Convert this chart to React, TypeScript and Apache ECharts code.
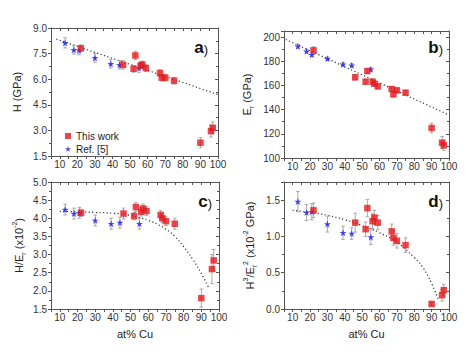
import React, { useEffect, useRef } from 'react';
import * as echarts from 'echarts';

// at% Cu of each sample
const xRef = [13, 18, 21, 30, 39, 44, 55];
const xWork = [22, 46, 52, 53, 56, 57, 59, 67, 68, 70, 75, 90, 96, 97];

// a) H (GPa)
const hRef = [8.13, 7.72, 7.68, 7.25, 6.9, 6.84, 6.65];
const hRefErr = [0.3, 0.25, 0.25, 0.25, 0.25, 0.25, 0.25];
const hWork = [7.81, 6.84, 6.61, 7.39, 6.8, 6.86, 6.65, 6.36, 6.09, 6.09, 5.91, 2.28, 2.96, 3.15];
const hWorkErr = [0.2, 0.25, 0.2, 0.25, 0.2, 0.2, 0.2, 0.2, 0.2, 0.2, 0.2, 0.3, 0.35, 0.35];
const hFit = [[8, 8.35], [100, 5.1]];

// b) Er (GPa)
const eRef = [192.3, 188.2, 185.4, 182.1, 177.4, 176.6, 173.3];
const eRefErr = [1.5, 1.5, 1.5, 1.5, 1.5, 1.5, 1.5];
const eWork = [189, 166.7, 163.1, 171.9, 163.1, 161.4, 159.2, 157, 152.6, 155.9, 154, 124.8, 112.7, 110.5];
const eWorkErr = [3, 2, 2, 2, 2, 2, 2, 2, 2, 2, 2, 4, 5, 4];
const eFit = [[6, 198], [100, 135.5]];

// c) H/Er (x10^-2)
const heRef = [4.24, 4.13, 4.15, 3.94, 3.85, 3.88, 3.85];
const heRefErr = [0.15, 0.15, 0.15, 0.15, 0.15, 0.15, 0.15];
const heWork = [4.15, 4.13, 4.06, 4.31, 4.18, 4.27, 4.2, 4.09, 4.0, 3.92, 3.85, 1.8, 2.6, 2.84];
const heWorkErr = [0.1, 0.15, 0.1, 0.12, 0.12, 0.12, 0.12, 0.12, 0.12, 0.12, 0.15, 0.25, 0.4, 0.3];
const heFit = [[10, 4.19], [20, 4.18], [30, 4.16], [40, 4.14], [50, 4.08], [55, 4.02], [60, 3.94], [65, 3.84], [70, 3.7], [75, 3.5], [80, 3.22], [85, 2.88], [90, 2.48], [94, 2.1]];

// d) H^3/Er^2 (x10^-2 GPa)
const h3Ref = [1.48, 1.33, 1.34, 1.17, 1.05, 1.04, 0.99];
const h3RefErr = [0.14, 0.11, 0.11, 0.11, 0.09, 0.08, 0.1];
const h3Work = [1.36, 1.19, 1.1, 1.39, 1.21, 1.26, 1.19, 1.07, 0.98, 0.94, 0.88, 0.07, 0.19, 0.26];
const h3WorkErr = [0.1, 0.13, 0.1, 0.12, 0.1, 0.1, 0.1, 0.1, 0.1, 0.1, 0.1, 0.02, 0.08, 0.08];
const h3Fit = [[10, 1.36], [20, 1.33], [30, 1.29], [40, 1.23], [50, 1.15], [60, 1.05], [70, 0.92], [80, 0.71], [85, 0.57], [90, 0.35], [94, 0.12]];

const STAR = 'path://M50,0L61.2,34.5L97.6,34.5L68.2,55.9L79.4,90.5L50,69.1L20.6,90.5L31.8,55.9L2.4,34.5L38.8,34.5Z';
const RED = '#e3191f';
const BLUE = '#1c1cf0';
const AXIS = '#555';
const FONT = 'Liberation Sans, Arial, sans-serif';

export default function App() {
  const ref = useRef<HTMLDivElement>(null);
  useEffect(() => {
    const chart = echarts.init(ref.current!, null, { renderer: 'svg' });

    const richName = {
      n: { fontSize: 11, lineHeight: 16, verticalAlign: 'middle', fontFamily: FONT, color: '#222' },
      s: { fontSize: 7, lineHeight: 16, verticalAlign: 'bottom', fontFamily: FONT, color: '#222' },
      p: { fontSize: 7, lineHeight: 16, verticalAlign: 'top', fontFamily: FONT, color: '#222' },
    };

    const panels = [
      { grid: { left: 51, top: 28, width: 167, height: 128 }, ymin: 1.5, ymax: 9, yint: 1.5, dec: 1, showMax: true,
        name: '{n|H (GPa)}', gap: 26, xname: '', tag: 'a', tx: 208, ty: 56,
        ref: hRef, refErr: hRefErr, work: hWork, workErr: hWorkErr, fit: hFit, smooth: false },
      { grid: { left: 284, top: 31, width: 165, height: 127 }, ymin: 100, ymax: 205, yint: 20, dec: 0, showMax: false,
        name: '{n|E}{s|r}{n| (GPa)}', gap: 29, xname: '', tag: 'b', tx: 443, ty: 56,
        ref: eRef, refErr: eRefErr, work: eWork, workErr: eWorkErr, fit: eFit, smooth: false },
      { grid: { left: 51, top: 182, width: 168, height: 127 }, ymin: 1.5, ymax: 5, yint: 0.5, dec: 1, showMax: true,
        name: '{n|H/E}{s|r}{n| (x10}{p|-2}{n|)}', gap: 24, xname: 'at% Cu', tag: 'c', tx: 212, ty: 210,
        ref: heRef, refErr: heRefErr, work: heWork, workErr: heWorkErr, fit: heFit, smooth: true },
      { grid: { left: 284, top: 182, width: 165, height: 127 }, ymin: 0, ymax: 1.75, yint: 0.5, dec: 1, showMax: false,
        name: '{n|H}{p|3}{n|/E}{s|r}{p|2}{n| (x10}{p|-2}{n| GPa)}', gap: 26, xname: 'at% Cu', tag: 'd', tx: 443, ty: 210,
        ref: h3Ref, refErr: h3RefErr, work: h3Work, workErr: h3WorkErr, fit: h3Fit, smooth: true },
    ];

    const grids: any[] = [];
    const xAxes: any[] = [];
    const yAxes: any[] = [];
    const series: any[] = [];
    const graphics: any[] = [];

    const errRender = (params: any, api: any) => {
      const x = api.value(0), y = api.value(1), e = api.value(2);
      const top = api.coord([x, y + e]);
      const bot = api.coord([x, y - e]);
      const st = { stroke: '#a0a0a0', lineWidth: 0.9 };
      return {
        type: 'group',
        children: [
          { type: 'line', shape: { x1: top[0], y1: top[1], x2: bot[0], y2: bot[1] }, style: st },
          { type: 'line', shape: { x1: top[0] - 1.8, y1: top[1], x2: top[0] + 1.8, y2: top[1] }, style: st },
          { type: 'line', shape: { x1: bot[0] - 1.8, y1: bot[1], x2: bot[0] + 1.8, y2: bot[1] }, style: st },
        ],
      };
    };

    panels.forEach((p, i) => {
      grids.push({ ...p.grid, show: false });
      const xBase = {
        gridIndex: i, type: 'value', min: 5, max: 100, interval: 5,
        axisLine: { show: true, onZero: false, lineStyle: { color: AXIS, width: 1 } },
        splitLine: { show: false },
      };
      xAxes[i] = {
        ...xBase, position: 'bottom',
        name: p.xname, nameLocation: 'middle', nameGap: 19,
        nameTextStyle: { fontSize: 11, fontFamily: FONT, color: '#222' },
        axisTick: { show: true, inside: false, length: 3, lineStyle: { color: AXIS } },
        axisLabel: { show: true, margin: 3, fontSize: 10, fontFamily: FONT, color: '#333',
          formatter: (v: number) => (v % 10 === 0 ? String(v) : '') },
      };
      xAxes[i + 4] = {
        ...xBase, position: 'top',
        axisTick: { show: true, inside: true, length: 3, lineStyle: { color: AXIS } },
        axisLabel: { show: false },
      };
      const yBase = {
        gridIndex: i, type: 'value', min: p.ymin, max: p.ymax, interval: p.yint,
        axisLine: { show: true, onZero: false, lineStyle: { color: AXIS, width: 1 } },
        splitLine: { show: false },
        minorTick: { show: true, splitNumber: 2, length: 2, lineStyle: { color: AXIS } },
      };
      yAxes[i] = {
        ...yBase, position: 'left',
        name: p.name, nameLocation: 'middle', nameGap: p.gap, nameRotate: 90,
        nameTextStyle: { rich: richName },
        axisTick: { show: true, inside: false, length: 3, lineStyle: { color: AXIS } },
        axisLabel: { show: true, margin: 4, fontSize: 10, fontFamily: FONT, color: '#333', showMaxLabel: p.showMax,
          formatter: (v: number) => v.toFixed(p.dec) },
      };
      yAxes[i + 4] = {
        ...yBase, position: 'right',
        axisTick: { show: true, inside: true, length: 3, lineStyle: { color: AXIS } },
        axisLabel: { show: false },
      };

      series.push({
        name: 'fit' + i, type: 'line', xAxisIndex: i, yAxisIndex: i,
        data: p.fit, showSymbol: false, smooth: p.smooth, z: 1,
        lineStyle: { type: [1.2, 2.4], color: '#333', width: 1.2 },
      });
      series.push({
        name: 'errRef' + i, type: 'custom', xAxisIndex: i, yAxisIndex: i, z: 2,
        renderItem: errRender, encode: { x: 0, y: 1 },
        data: xRef.map((x, k) => [x, p.ref[k], p.refErr[k]]),
      });
      series.push({
        name: 'errWork' + i, type: 'custom', xAxisIndex: i, yAxisIndex: i, z: 2,
        renderItem: errRender, encode: { x: 0, y: 1 },
        data: xWork.map((x, k) => [x, p.work[k], p.workErr[k]]),
      });
      series.push({
        name: 'This work', type: 'scatter', xAxisIndex: i, yAxisIndex: i, z: 4,
        symbol: 'rect', symbolSize: 6.5, itemStyle: { color: RED },
        data: xWork.map((x, k) => [x, p.work[k]]),
      });
      series.push({
        name: 'Ref. [5]', type: 'scatter', xAxisIndex: i, yAxisIndex: i, z: 3,
        symbol: STAR, symbolSize: 7, itemStyle: { color: BLUE },
        data: xRef.map((x, k) => [x, p.ref[k]]),
      });

      graphics.push({
        type: 'text', x: p.tx, y: p.ty,
        style: {
          text: `{b|${p.tag}}{q|)}`, align: 'right', verticalAlign: 'bottom',
          rich: {
            b: { fontSize: 17, fontWeight: 'bold', fontFamily: FONT, fill: '#111', lineHeight: 18, verticalAlign: 'bottom' },
            q: { fontSize: 13, fontFamily: FONT, fill: '#111', lineHeight: 18, verticalAlign: 'bottom' },
          },
        },
      });
    });

    chart.setOption({
      animation: false,
      backgroundColor: '#fff',
      grid: grids,
      xAxis: xAxes,
      yAxis: yAxes,
      series,
      graphic: graphics,
      legend: {
        data: ['This work', 'Ref. [5]'], orient: 'vertical', left: 60, top: 126,
        itemWidth: 6, itemHeight: 6, itemGap: 3,
        textStyle: { fontSize: 10, fontFamily: FONT, color: '#222' },
        selectedMode: false,
      },
    });
    return () => chart.dispose();
  }, []);
  return <div ref={ref} style={{ position: 'fixed', left: 0, top: 0, width: 474, height: 363 }} />;
}
